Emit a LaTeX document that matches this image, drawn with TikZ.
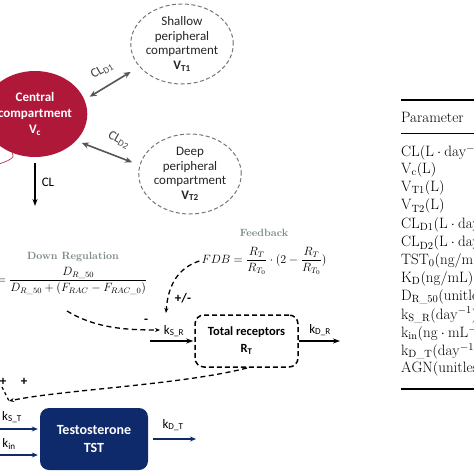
\documentclass[tikz,border=0pt]{standalone}
\usepackage{fontspec}
\usepackage{amsmath}
\newfontfamily\calibri{Carlito}
\usetikzlibrary{arrows.meta,shapes.geometric}
\definecolor{crimson}{HTML}{B0183A}
\definecolor{navyb}{HTML}{0E2A6B}
\definecolor{greyteal}{HTML}{7D8A8A}
\definecolor{dgray}{HTML}{555555}
\begin{document}
\begin{tikzpicture}[x=1pt,y=-1pt,
  lab/.style={font=\calibri\fontsize{13}{15}\selectfont, inner sep=0pt},
  periph/.style={ellipse, draw=dgray!80, dashed, dash pattern=on 4pt off 2.5pt, line width=1pt,
     minimum width=94pt, minimum height=80pt, align=center, inner sep=0pt,
     font=\calibri\fontsize{13}{14.5}\selectfont, text=black!85},
  dbl/.style={{Stealth[length=7pt,width=6pt]}-{Stealth[length=7pt,width=6pt]}, line width=1.6pt, draw=dgray},
  blk/.style={-{Stealth[length=7pt,width=5pt]}, line width=1.3pt},
  dsh/.style={-{Stealth[length=5pt,width=4pt]}, line width=1.3pt, dash pattern=on 5pt off 3.5pt},
  nav/.style={-{Stealth[length=6pt,width=5pt]}, line width=1.2pt, draw=navyb},
  row/.style={anchor=west, inner sep=0pt, font=\fontsize{15}{17}\selectfont}]
\useasboundingbox (0,0) rectangle (474,474);
\clip (0,0) rectangle (474,474);
\fill[white] (0,0) rectangle (474,474);

% compartments
\node[ellipse, fill=crimson, minimum width=96pt, minimum height=86pt, inner sep=0pt, align=center,
      text=white, font=\calibri\bfseries\fontsize{13}{16}\selectfont] (cen) at (35,114)
      {Central\\compartment\\V\textsubscript{c}};
\node[periph] (sha) at (182,44) {Shallow\\peripheral\\compartment\\\textbf{V\textsubscript{T1}}};
\node[periph] (dee) at (190,174) {Deep\\peripheral\\compartment\\\textbf{V\textsubscript{T2}}};

\draw[dbl, shorten <=6pt, shorten >=10pt] (cen.16) -- (sha.208);
\draw[dbl, shorten <=6pt, shorten >=8pt] (cen.-33) -- (dee.170);
\node[lab, rotate=30, text=black!75] (cld1) at (102,70) {CL\textsubscript{D1}};
\node[lab, rotate=-30, text=black!75] (cld2) at (119,140) {CL\textsubscript{D2}};

\coordinate (clend) at (35,206);
\draw[blk, shorten <=6pt] (cen.south) -- (clend);
\node[lab] (cl) at (48,182) {CL};

\coordinate (dose) at (-4,165);
\draw[crimson, line width=0.6pt] (dose) .. controls (8,161) and (16,158) .. (cen.240);

% down regulation
\node[font=\bfseries\fontsize{10.5}{12}\selectfont, text=greyteal] (drl) at (73,257) {Down Regulation};
\node[inner sep=0pt, font=\fontsize{12}{14}\selectfont] (drf) at (72,281)
  {$=\dfrac{D_{R\_50}}{D_{R\_50}+(F_{RAC}-F_{RAC\_0})}$};

% feedback
\node[font=\bfseries\fontsize{10.5}{12}\selectfont, text=greyteal] (fbl) at (264,233) {Feedback};
\node[inner sep=0pt, font=\fontsize{12}{14}\selectfont] (fdb) at (264,261)
  {$FDB=\dfrac{R_T}{R_{T_0}}\cdot(2-\dfrac{R_T}{R_{T_0}})$};

% receptors
\node[draw, dash pattern=on 5pt off 3pt, line width=1.5pt, rounded corners=9pt,
      minimum width=103pt, minimum height=52pt, align=center,
      font=\calibri\bfseries\fontsize{12.5}{17}\selectfont] (trb) at (246.5,341)
      {Total receptors\\R\textsubscript{T}};
\node[lab] (ksr) at (174,331) {k\textsubscript{S\_R}};
\coordinate (ksrstart) at (150,341);
\draw[blk, line width=1.2pt, shorten >=1pt] (ksrstart) -- (trb.west);
\coordinate (kdrend) at (340,341);
\draw[blk, line width=1.2pt] (trb.east) -- (kdrend);
\node[lab] (kdr) at (320,330) {k\textsubscript{D\_R}};

\coordinate (fdbend) at (166,313);
\draw[dsh] ([xshift=-2pt]fdb.west) .. controls (178,268) and (168,285) .. (fdbend);
\node[lab, font=\calibri\bfseries\fontsize{13}{15}\selectfont] (pm) at (183,298) {+/-};
\coordinate (drend) at (160,330);
\draw[dsh] (67,311) .. controls (95,328) and (125,330) .. (drend);
\node[lab, font=\calibri\bfseries\fontsize{13}{15}\selectfont] (mi) at (146,321) {-};

% testosterone
\node[fill=navyb, rounded corners=9pt, minimum width=108pt, minimum height=62pt, align=center,
      text=white, font=\calibri\bfseries\fontsize{14}{18}\selectfont] (tst) at (94,439)
      {Testosterone\\TST};
\coordinate (fbend) at (9,401);
\draw[dsh] (247,368) .. controls (180,385) and (60,390) .. (fbend);
\coordinate (plusa) at (2,387);
\draw[line width=1.2pt, dash pattern=on 3pt off 3pt] (plusa) -- (fbend);
\node[lab, font=\calibri\bfseries\fontsize{13}{15}\selectfont] (p1) at (3,382) {+};
\node[lab, font=\calibri\bfseries\fontsize{13}{15}\selectfont] (p2) at (24,382) {+};

\coordinate (kst0) at (-2,429);
\coordinate (kin0) at (-2,455);
\draw[nav, shorten >=2pt] (kst0) -- (kst0 -| tst.west);
\draw[nav, shorten >=2pt] (kin0) -- (kin0 -| tst.west);
\node[lab] (kst) at (12,417) {k\textsubscript{S\_T}};
\node[lab] (kin) at (9,444) {k\textsubscript{in}};
\coordinate (kdtend) at (196,439);
\draw[nav, shorten <=5pt] (tst.east) -- (kdtend);
\node[lab] (kdt) at (173,425) {k\textsubscript{D\_T}};

% table
\draw[line width=1.2pt] (401,100) -- (480,100);
\node[row] (hdr) at (401,117) {Parameter};
\draw[line width=0.8pt] (401,133) -- (480,133);
\node[row] (r1) at (401,152) {$\mathrm{CL(L\cdot day^{-1})}$};
\node[row] (r2) at (401,170.1) {$\mathrm{V_c(L)}$};
\node[row] (r3) at (401,188.2) {$\mathrm{V_{T1}(L)}$};
\node[row] (r4) at (401,206.3) {$\mathrm{V_{T2}(L)}$};
\node[row] (r5) at (401,224.4) {$\mathrm{CL_{D1}(L\cdot day^{-1})}$};
\node[row] (r6) at (401,242.5) {$\mathrm{CL_{D2}(L\cdot day^{-1})}$};
\node[row] (r7) at (401,260.6) {$\mathrm{TST_0(ng/mL)}$};
\node[row] (r8) at (401,278.7) {$\mathrm{K_D(ng/mL)}$};
\node[row] (r9) at (401,296.8) {$\mathrm{D_{R\_50}(unitless)}$};
\node[row] (r10) at (401,314.9) {$\mathrm{k_{S\_R}(day^{-1})}$};
\node[row] (r11) at (401,333) {$\mathrm{k_{in}(ng\cdot mL^{-1}\cdot day^{-1})}$};
\node[row] (r12) at (401,351.1) {$\mathrm{k_{D\_T}(day^{-1})}$};
\node[row] (r13) at (401,369.2) {$\mathrm{AGN(unitless)}$};
\draw[line width=1.2pt] (401,389) -- (480,389);
\end{tikzpicture}
\end{document}
